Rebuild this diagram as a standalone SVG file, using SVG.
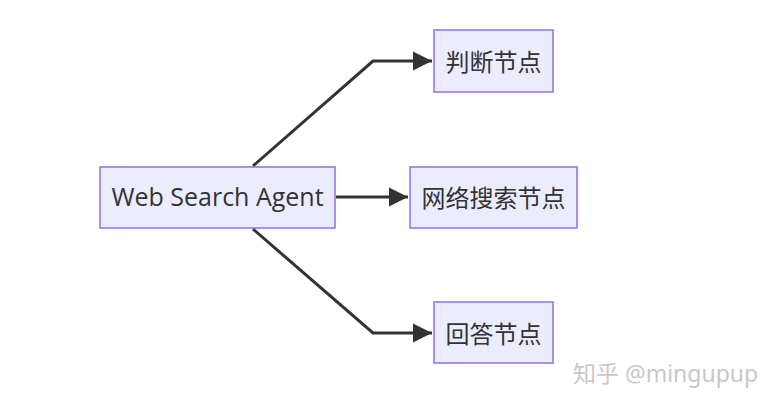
<svg xmlns="http://www.w3.org/2000/svg" width="777" height="406" viewBox="0 0 777 406">
<defs>
<style>
.node rect{fill:#ECECFF;stroke:#9370DB;stroke-width:1.5}
.node text{font-family:"Open Sans","Noto Sans CJK SC",sans-serif;font-size:24px;fill:#333;text-anchor:middle;dominant-baseline:central}
.node text.lat{font-size:25px}
.edge{fill:none;stroke:#333;stroke-width:3}
.wm{font-family:"Noto Sans","Noto Sans CJK SC",sans-serif;font-size:23px;fill:#c8c8c8}
</style>
<marker id="arrow" viewBox="0 0 10 10" refX="10" refY="5" markerWidth="6.5" markerHeight="6.5" orient="auto" markerUnits="strokeWidth">
<path d="M0,0 L10,5 L0,10 z" fill="#333"/>
</marker>
</defs>
<rect width="777" height="406" fill="#fff"/>
<g id="connectors">
<path class="edge" d="M253,166 L373,61 L432,61" marker-end="url(#arrow)"/>
<path class="edge" d="M336,197 L408,197" marker-end="url(#arrow)"/>
<path class="edge" d="M253,229 L373,333 L432,333" marker-end="url(#arrow)"/>
</g>
<g id="agent" class="node">
<rect x="100" y="167" width="235" height="61"/>
<text class="lat" x="217.5" y="196">Web Search Agent</text>
</g>
<g id="judge" class="node">
<rect x="434" y="30" width="119" height="62"/>
<text x="493.5" y="61">判断节点</text>
</g>
<g id="search" class="node">
<rect x="410" y="167" width="167" height="61"/>
<text x="493.5" y="197">网络搜索节点</text>
</g>
<g id="answer" class="node">
<rect x="434" y="302" width="119" height="61"/>
<text x="493.5" y="333">回答节点</text>
</g>
<text class="wm" x="573" y="382">知乎 @mingupup</text>
</svg>
